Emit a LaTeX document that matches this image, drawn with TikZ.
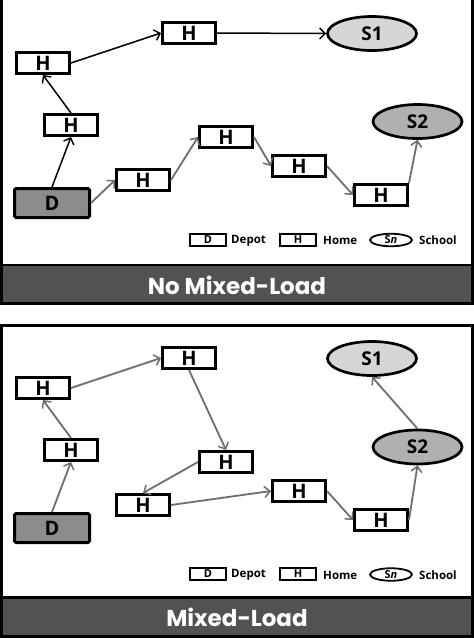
\documentclass[tikz,border=0pt]{standalone}
\usepackage{fontspec}
\setmainfont{Open Sans}
\newfontfamily\titlefont{Poppins}
\usetikzlibrary{arrows.meta,shapes.geometric}
\definecolor{edgegray}{HTML}{6E6E6E}
\definecolor{bargray}{HTML}{525252}
\definecolor{depotgray}{HTML}{8C8C8C}
\definecolor{sonegray}{HTML}{D6D6D6}
\definecolor{stwogray}{HTML}{B0B0B0}
\tikzset{
  hbox/.style={draw, line width=3pt, minimum width=53pt, minimum height=21pt, inner sep=0pt, fill=white, font=\fontsize{20}{20}\selectfont\bfseries},
  dbox/.style={draw, line width=3pt, rounded corners=1.5pt, minimum width=75pt, minimum height=29pt, inner sep=0pt, fill=depotgray, font=\fontsize{20}{20}\selectfont\bfseries},
  sone/.style={draw, ellipse, line width=2.7pt, minimum width=89pt, minimum height=34pt, inner sep=0pt, fill=sonegray, font=\fontsize{19}{19}\selectfont\bfseries},
  stwo/.style={sone, fill=stwogray},
  blk/.style={line width=1.5pt, -{Straight Barb[length=5.5pt,width=11pt,line width=1.4pt]}},
  gry/.style={line width=1.8pt, draw=edgegray, -{Straight Barb[length=5.5pt,width=11pt,line width=1.5pt]}},
  legbox/.style={draw, line width=2pt, minimum width=36pt, minimum height=12pt, inner sep=0pt, font=\fontsize{11}{11}\selectfont\bfseries},
  legell/.style={draw, ellipse, line width=1.8pt, minimum width=42pt, minimum height=12.5pt, inner sep=0pt, font=\fontsize{11}{11}\selectfont\bfseries},
  legtxt/.style={anchor=west, inner sep=0pt, font=\fontsize{11.5}{11.5}\selectfont\bfseries},
  titletxt/.style={text=white, inner sep=0pt, font=\titlefont\fontsize{23}{23}\selectfont\bfseries},
}
\begin{document}
\begin{tikzpicture}[x=1pt,y=-1pt]
\useasboundingbox (0,0) rectangle (474,638);
\fill[white] (0,0) rectangle (474,638);
% ---------- top panel frame ----------
\draw[line width=3pt] (1.5,-5) -- (1.5,303.5) -- (472.5,303.5) -- (472.5,-5);
\draw[line width=2.5pt, fill=bargray] (1.5,265) rectangle (472.5,303.5);
\node[titletxt] (t1) at (237,285) {No Mixed-Load};
% top nodes
\node[hbox] (a1) at (43,63) {H};
\node[hbox] (am) at (71,125) {H};
\node[dbox] (ad) at (52,203) {D};
\node[hbox] (at) at (189,33) {H};
\node[sone] (as1) at (372,33.5) {S1};
\node[stwo] (as2) at (417.5,121.5) {S2};
\node[hbox] (ab1) at (143,180) {H};
\node[hbox] (ab2) at (226,137) {H};
\node[hbox] (ab3) at (299,166) {H};
\node[hbox] (ab4) at (381,195) {H};
% top edges
\draw[blk] (ad.north) -- (am.south);
\draw[blk] (am.north) -- (a1.south);
\draw[blk] (a1.east) -- (at.west);
\draw[blk] (at.east) -- (as1.west);
\draw[gry] (ad.east) -- (ab1.west);
\draw[gry] (ab1.east) -- (ab2.west);
\draw[gry] (ab2.east) -- (ab3.west);
\draw[gry] (ab3.east) -- (ab4.west);
\draw[gry] (ab4.north east) -- (as2.south);
% top legend
\node[legbox] (lad) at (208,240) {D};
\node[legtxt] (ladt) at (231,240.5) {Depot};
\node[legbox] (lah) at (298,240) {H};
\node[legtxt] (laht) at (323,240.5) {Home};
\node[legell] (las) at (391,240) {S\textit{n}};
\node[legtxt] (last) at (419,240.5) {School};
% ---------- bottom panel frame ----------
\draw[line width=3pt] (1.5,325) rectangle (472.5,636.5);
\draw[line width=2.5pt, fill=bargray] (1.5,597.5) rectangle (472.5,636.5);
\node[titletxt] (t2) at (237,617) {Mixed-Load};
% bottom nodes
\node[hbox] (b1) at (43,388) {H};
\node[hbox] (bm) at (71,450) {H};
\node[dbox] (bd) at (52,528) {D};
\node[hbox] (bt) at (189,358) {H};
\node[hbox] (bb2) at (226,462) {H};
\node[hbox] (bb1) at (143,505) {H};
\node[hbox] (bb3) at (299,491) {H};
\node[hbox] (bb4) at (381,520) {H};
\node[sone] (bs1) at (372,358.5) {S1};
\node[stwo] (bs2) at (417.5,447) {S2};
% bottom edges
\draw[gry] (bd.north) -- (bm.south);
\draw[gry] (bm.north) -- (b1.south);
\draw[gry] (b1.east) -- (bt.west);
\draw[gry] (bt.south) -- (bb2.north);
\draw[gry] (bb2.west) -- (bb1.north);
\draw[gry] (bb1.east) -- (bb3.west);
\draw[gry] (bb3.east) -- (bb4.west);
\draw[gry] (bb4.east) -- (bs2.south);
\draw[gry] (bs2.north) -- (bs1.south);
% bottom legend
\node[legbox] (lbd) at (208,574) {D};
\node[legtxt] (lbdt) at (231,575) {Depot};
\node[legbox] (lbh) at (298,574) {H};
\node[legtxt] (lbht) at (323,575) {Home};
\node[legell] (lbs) at (391,574.5) {S\textit{n}};
\node[legtxt] (lbst) at (419,575) {School};
\end{tikzpicture}
\end{document}
